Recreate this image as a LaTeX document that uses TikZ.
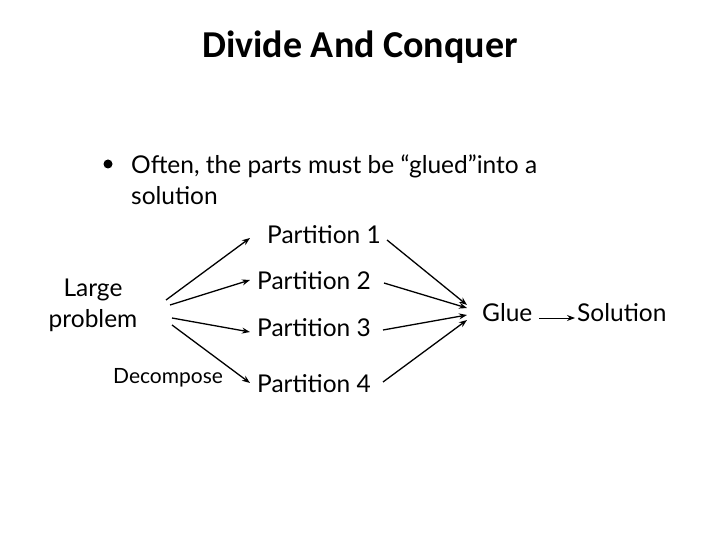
\documentclass[tikz,border=0pt]{standalone}
\usepackage{fontspec}
\setmainfont{Lato}
\newfontfamily\titlefont{Carlito}
\usetikzlibrary{arrows.meta}
\begin{document}
\begin{tikzpicture}[x=1bp,y=-1bp,
  txt/.style={inner sep=0pt,font=\fontsize{24.5bp}{31bp}\selectfont},
  arr/.style={-{Stealth[length=8bp,width=6bp]},line width=1.3bp}]
\useasboundingbox[fill=white] (0,0) rectangle (720,540);
\node[inner sep=0pt,font=\titlefont\bfseries\fontsize{38bp}{44bp}\selectfont] (title) at (360,47) {Divide And Conquer};
\node[circle,fill=black,inner sep=0pt,minimum size=9bp] (bul) at (108,164) {};
\node[txt,anchor=north west,align=left] (btxt) at (131,155) {Often, the parts must be “glued”into a\\solution};
\node[txt,align=center] (lp) at (93,305) {Large\\problem};
\node[txt,anchor=west] (p1) at (267,235) {Partition 1};
\node[txt,anchor=west] (p2) at (257,281) {Partition 2};
\node[txt,anchor=west] (p3) at (257,328) {Partition 3};
\node[txt,anchor=west] (p4) at (257,384) {Partition 4};
\node[txt,anchor=west] (glue) at (482,313) {Glue};
\node[txt,anchor=west] (sol) at (577,313) {Solution};
\node[inner sep=0pt,anchor=west,font=\fontsize{21bp}{24bp}\selectfont] (dec) at (113,378) {Decompose};
\coordinate (a1s) at (166,300); \coordinate (a1e) at (250,238);
\coordinate (a2s) at (170,305); \coordinate (a2e) at (250,280);
\coordinate (a3s) at (172,318); \coordinate (a3e) at (250,332);
\coordinate (a4s) at (172,325); \coordinate (a4e) at (250,383);
\coordinate (b1s) at (387,240); \coordinate (b2s) at (384,283);
\coordinate (b3s) at (383,330); \coordinate (b4s) at (383,382);
\coordinate (g1) at (467,305); \coordinate (g2) at (467,308);
\coordinate (g3) at (467,315); \coordinate (g4) at (467,320);
\coordinate (s1) at (539,318); \coordinate (s2) at (575,318);
\draw[arr] (a1s) -- (a1e);
\draw[arr] (a2s) -- (a2e);
\draw[arr] (a3s) -- (a3e);
\draw[arr] (a4s) -- (a4e);
\draw[arr] (b1s) -- (g1);
\draw[arr] (b2s) -- (g2);
\draw[arr] (b3s) -- (g3);
\draw[arr] (b4s) -- (g4);
\draw[arr,line width=1bp] (s1) -- (s2);
\end{tikzpicture}
\end{document}
